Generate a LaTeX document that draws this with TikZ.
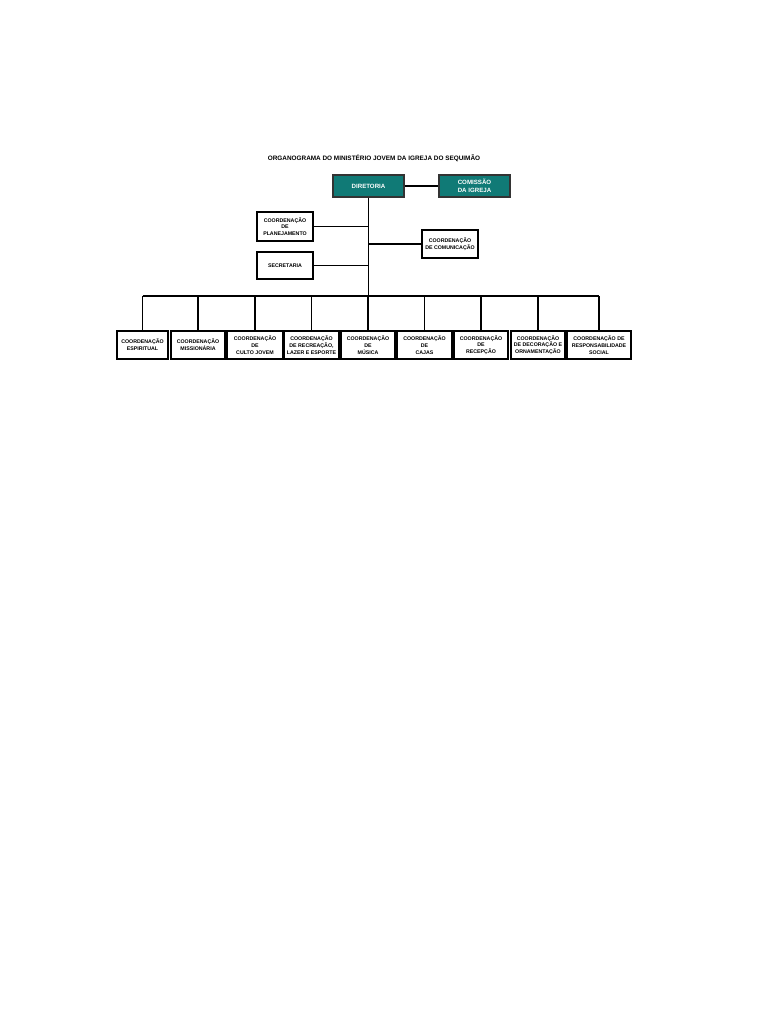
\documentclass[tikz,border=0pt]{standalone}
\usepackage{fontspec}
\setmainfont{Liberation Sans}
\definecolor{tealbox}{RGB}{16,122,118}
\begin{document}
\begin{tikzpicture}[x=0.75pt,y=-0.75pt,
  box/.style={draw=black, line width=0.8pt, fill=white, inner sep=0pt, align=center,
    font=\fontsize{3.95}{5.1}\selectfont\bfseries},
  tbox/.style={draw=black!80, line width=0.8pt, fill=tealbox, text=white, inner sep=0pt, align=center,
    font=\fontsize{4.6}{5.6}\selectfont\bfseries},
  link/.style={line width=0.9pt, draw=black}]
\useasboundingbox (0,0) rectangle (768,1024);
\node[font=\fontsize{4.8}{5.6}\selectfont\bfseries] (title) at (374,158) {ORGANOGRAMA DO MINISTÉRIO JOVEM DA IGREJA DO SEQUIMÃO};
\node[tbox, minimum width=71*0.75pt, minimum height=22*0.75pt] (dir) at (368.5,186) {DIRETORIA};
\node[tbox, minimum width=71*0.75pt, minimum height=22*0.75pt] (com) at (474.5,186) {COMISSÃO\\DA IGREJA};
\node[box, minimum width=56*0.75pt, minimum height=29*0.75pt] (plan) at (285,226.5) {COORDENAÇÃO\\DE\\PLANEJAMENTO};
\node[box, minimum width=56*0.75pt, minimum height=27*0.75pt] (sec) at (285,265.5) {SECRETARIA};
\node[box, minimum width=56*0.75pt, minimum height=28*0.75pt] (comu) at (450,244) {COORDENAÇÃO\\DE COMUNICAÇÃO};
\coordinate (bus) at (368,296);
\node[box, minimum width=51*0.75pt, minimum height=28*0.75pt] (b1) at (142.5,345) {COORDENAÇÃO\\ESPIRITUAL};
\node[box, minimum width=54*0.75pt, minimum height=28*0.75pt] (b2) at (198,345) {COORDENAÇÃO\\MISSIONÁRIA};
\node[box, minimum width=56*0.75pt, minimum height=28*0.75pt] (b3) at (255,345) {COORDENAÇÃO\\DE\\CULTO JOVEM};
\node[box, minimum width=55*0.75pt, minimum height=28*0.75pt] (b4) at (311.5,345) {COORDENAÇÃO\\DE RECREAÇÃO,\\LAZER E ESPORTE};
\node[box, minimum width=54*0.75pt, minimum height=28*0.75pt] (b5) at (368,345) {COORDENAÇÃO\\DE\\MÚSICA};
\node[box, minimum width=55*0.75pt, minimum height=28*0.75pt] (b6) at (424.5,345) {COORDENAÇÃO\\DE\\CAJAS};
\node[box, minimum width=54*0.75pt, minimum height=28*0.75pt] (b7) at (481,345) {COORDENAÇÃO\\DE\\RECEPÇÃO};
\node[box, minimum width=54*0.75pt, minimum height=28*0.75pt] (b8) at (538,345) {COORDENAÇÃO\\DE DECORAÇÃO E\\ORNAMENTAÇÃO};
\node[box, minimum width=64*0.75pt, minimum height=28*0.75pt] (b9) at (599,345) {COORDENAÇÃO DE\\RESPONSABILIDADE\\SOCIAL};
\draw[link] (dir) -- (com);
\draw[link] (dir.south) -- (dir.south |- bus);
\draw[link] (plan.east) -- (plan.east -| dir.south);
\draw[link] (sec.east) -- (sec.east -| dir.south);
\draw[link] (comu.west) -- (comu.west -| dir.south);
\draw[link] (b1.north |- bus) -- (b9.north |- bus);
\foreach \b in {b1,b2,b3,b4,b5,b6,b7,b8,b9}{
  \draw[link] (\b.north |- bus) -- (\b.north);
}
\end{tikzpicture}
\end{document}
